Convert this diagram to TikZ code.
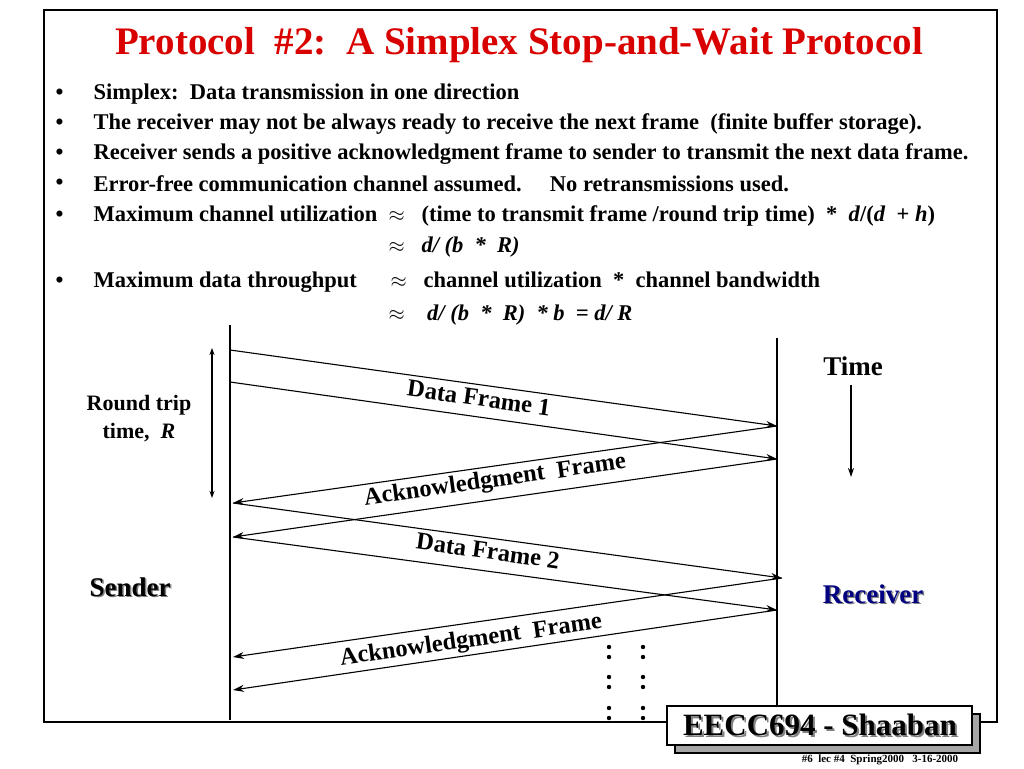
\documentclass[tikz,border=0pt]{standalone}
\usepackage{fontspec}
\setmainfont{Liberation Serif}
\usetikzlibrary{arrows.meta}
\begin{document}
\begin{tikzpicture}[x=1pt,y=-1pt,line width=1.1pt,
  msg/.style={-{Stealth[length=11pt,width=7pt]}},
  txt/.style={anchor=west,inner sep=0pt,font=\fontsize{22.5}{24}\selectfont\bfseries},
  lbl/.style={inner sep=0pt,font=\fontsize{24.5}{26}\selectfont\bfseries},
  shad/.style={inner sep=0pt,font=\fontsize{27}{28}\selectfont\bfseries}]
  \useasboundingbox (0,0) rectangle (1024,768);
  % frame
  \draw[line width=2.5pt] (44,10) rectangle (997,722);
  \node[inner sep=0pt,text=red!85!black,font=\fontsize{39}{40}\selectfont\bfseries] (title) at (519,45) {Protocol~~\#2:~~A Simplex Stop-and-Wait Protocol};

  % bullets
  \foreach \y/\t in {94/{Simplex:~~Data transmission in one direction},
    124/{The receiver may not be always ready to receive the next frame~~(finite buffer storage).},
    154/{Receiver sends a positive acknowledgment frame to sender to transmit the next data frame.},
    184/{Error-free communication channel assumed.~~~~~No retransmissions used.},
    216/{Maximum channel utilization~~$\approx$~~~(time to transmit frame /round trip time)~~*~~\textit{d}/(\textit{d}~~+ \textit{h})},
    282/{Maximum data throughput~~~~~~$\approx$~~~channel utilization~~*~~channel bandwidth}}
    {\node[txt] at (55,\y) {•}; \node[txt] at (93,\y) {\t};}
  \node[txt] (u2) at (388,247) {$\approx$~~~\textit{d/ (b~~*~~R)}};
  \node[txt] (t2) at (388,315) {$\approx$~~~~\textit{d/ (b~~*~~R)~~* b~~= d/ R}};

  % time lines
  \coordinate (s0) at (230,325); \coordinate (s1) at (230,720);
  \coordinate (r0) at (777,338); \coordinate (r1) at (777,720);
  \draw (s0) -- (s1);
  \draw (r0) -- (r1);

  % frames
  \coordinate (a1) at (230,350); \coordinate (b1) at (777,426);
  \coordinate (a2) at (230,382); \coordinate (b2) at (777,459);
  \coordinate (c1) at (233,503); \coordinate (d1) at (782,578);
  \coordinate (c2) at (233,537); \coordinate (d2) at (777,610);
  \coordinate (e1) at (233,657); \coordinate (e2) at (233,690);
  \draw[msg] (a1) -- (b1);
  \draw[msg] (a2) -- (b2);
  \draw[msg] (b1) -- (c1);
  \draw[msg] (b2) -- (c2);
  \draw[msg] (c1) -- (d1);
  \draw[msg] (c2) -- (d2);
  \draw[msg] (d1) -- (e1);
  \draw[msg] (d2) -- (e2);
  \node[lbl,rotate=-8] (df1) at (479,398) {Data Frame 1};
  \node[lbl,rotate=8] (ack1) at (495,481) {Acknowledgment~~Frame};
  \node[lbl,rotate=-8] (df2) at (488,551) {Data Frame 2};
  \node[lbl,rotate=8] (ack2) at (471,641) {Acknowledgment~~Frame};

  % round trip
  \coordinate (rt0) at (212,348); \coordinate (rt1) at (212,498);
  \draw[{Stealth[length=7pt,width=5pt]}-{Stealth[length=7pt,width=5pt]}] (rt0) -- (rt1);
  \node[inner sep=0pt,align=center,font=\fontsize{22}{28}\selectfont\bfseries] (rtt) at (139,419) {Round trip\\time,~~\textit{R}};

  % time
  \node[inner sep=0pt,font=\fontsize{27}{28}\selectfont\bfseries] (time) at (853,366) {Time};
  \coordinate (tm0) at (851,385); \coordinate (tm1) at (851,477);
  \draw[-{Stealth[length=9pt,width=6pt]}] (tm0) -- (tm1);

  % ellipsis dots
  \foreach \x in {609,643} \foreach \y in {652,682,713}
    {\fill (\x,\y-5) circle (2.2); \fill (\x,\y+5) circle (2.2);}

  % sender and receiver
  \node[shad,text=gray] at (131.5,588.5) {Sender};
  \node[shad] (snd) at (130,587) {Sender};
  \node[shad,text=gray] at (874.5,595.5) {Receiver};
  \node[shad,text=blue!50!black] (rcv) at (873,594) {Receiver};

  % footer box
  \fill[gray!70] (675,714) rectangle (980,753);
  \draw (675,714) rectangle (980,753);
  \draw[fill=white,line width=1.3pt] (667,706) rectangle (972,745);
  \node[inner sep=0pt,text=gray,font=\fontsize{31}{32}\selectfont\bfseries] at (822,727) {EECC694 - Shaaban};
  \node[inner sep=0pt,font=\fontsize{31}{32}\selectfont\bfseries] (sig) at (820,725) {EECC694 - Shaaban};
  \node[inner sep=0pt,font=\fontsize{11}{12}\selectfont\bfseries] (foot) at (880,760) {\#6~~lec \#4~~Spring2000~~~3-16-2000};
\end{tikzpicture}
\end{document}
